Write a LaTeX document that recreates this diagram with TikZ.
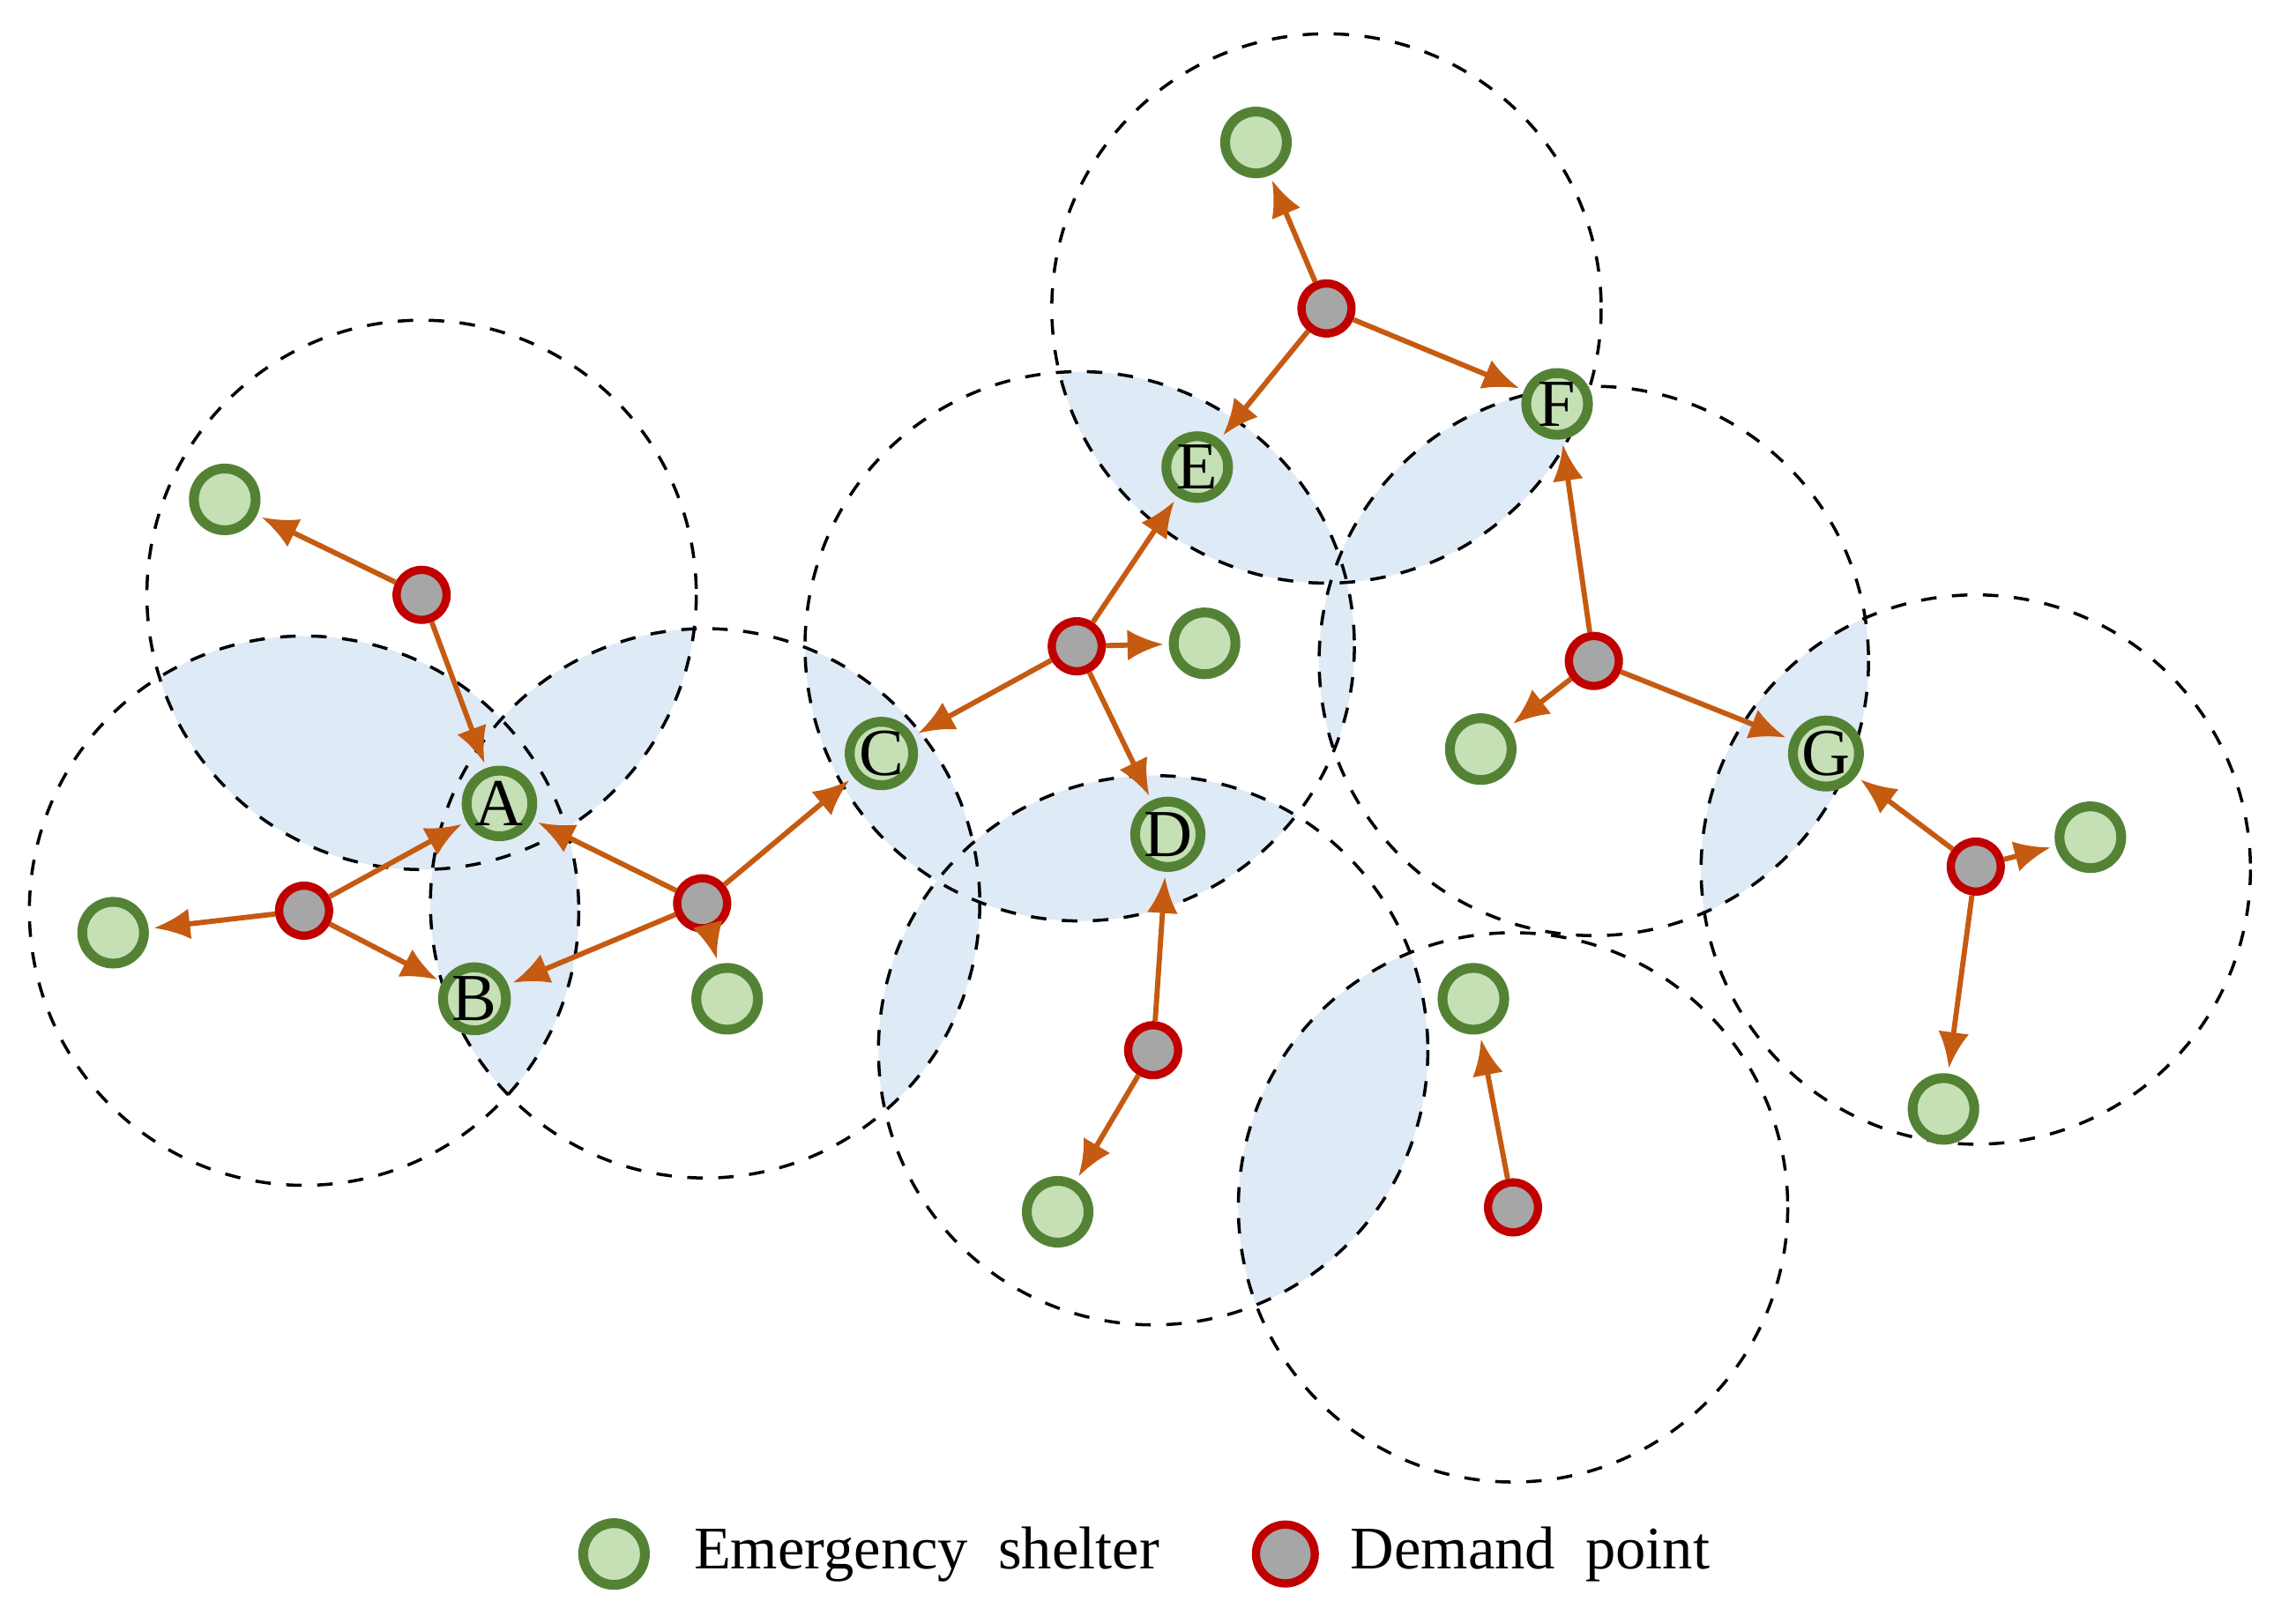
\documentclass[tikz,border=0pt]{standalone}
\usepackage{fontspec}
\setmainfont{Liberation Serif}
\usetikzlibrary{arrows.meta}
\definecolor{lens}{RGB}{222,234,246}
\definecolor{sg}{RGB}{84,130,53}
\definecolor{sf}{RGB}{197,224,180}
\definecolor{dr}{RGB}{192,0,0}
\definecolor{dg}{RGB}{166,166,166}
\definecolor{ar}{RGB}{197,90,17}
\tikzset{
 shelter/.style={circle,draw=sg,fill=sf,line width=1.9pt,minimum size=0.42cm,inner sep=0pt,font=\fontsize{13}{15}\selectfont},
 demand/.style={circle,draw=dr,fill=dg,line width=1.6pt,minimum size=0.34cm,inner sep=0pt},
 zone/.style={dashed,line width=0.6pt},
 link/.style={draw=ar,line width=1pt,-{Latex[length=7pt,width=6pt]},shorten >=1pt}
}
\begin{document}
\begin{tikzpicture}[x=0.01cm,y=-0.01cm]
\useasboundingbox (0,0) rectangle (1563,1100);
\def\R{187}
\foreach \a/\b/\c/\d in {287/405/207/620, 287/405/480/615, 207/620/480/615, 480/615/735/440, 735/440/903/210, 735/440/1085/450, 903/210/1085/450, 735/440/785/715, 480/615/785/715, 785/715/1030/822, 1085/450/1345/592}{
  \begin{scope}
    \clip (\a,\b) circle (\R);
    \fill[lens] (\c,\d) circle (\R);
  \end{scope}}
\foreach \x/\y in {287/405,207/620,480/615,735/440,903/210,1085/450,785/715,1030/822,1345/592}
  \draw[zone] (\x,\y) circle (\R);
\node[shelter] (s1) at (153,340) {};
\node[shelter] (s2) at (77,635) {};
\node[shelter] (A) at (340,547) {A};
\node[shelter] (B) at (323,680) {B};
\node[shelter] (s3) at (495,680) {};
\node[shelter] (C) at (600,513) {C};
\node[shelter] (s4) at (820,438) {};
\node[shelter] (E) at (815,318) {E};
\node[shelter] (s5) at (855,97) {};
\node[shelter] (F) at (1060,275) {F};
\node[shelter] (s6) at (1008,510) {};
\node[shelter] (G) at (1243,513) {G};
\node[shelter] (s7) at (1423,570) {};
\node[shelter] (s8) at (1323,755) {};
\node[shelter] (D) at (795,568) {D};
\node[shelter] (s9) at (720,825) {};
\node[shelter] (s10) at (1003,680) {};
\node[demand] (d1) at (287,405) {};
\node[demand] (d2) at (207,620) {};
\node[demand] (d3) at (478,615) {};
\node[demand] (d4) at (733,440) {};
\node[demand] (d5) at (903,210) {};
\node[demand] (d6) at (1085,450) {};
\node[demand] (d7) at (1345,590) {};
\node[demand] (d8) at (785,715) {};
\node[demand] (d9) at (1030,822) {};
\foreach \d/\s in {d1/s1,d1/A,d2/s2,d2/A,d2/B,d3/A,d3/B,d3/s3,d3/C,d4/C,d4/E,d4/s4,d4/D,d5/s5,d5/E,d5/F,d6/F,d6/s6,d6/G,d7/G,d7/s7,d7/s8,d8/D,d8/s9,d9/s10}
  \draw[link] (\d) -- (\s);
\node[shelter] (ls) at (418,1058) {};
\node[anchor=west,font=\fontsize{11.7}{14}\selectfont] (lst) at (460,1058) {Emergency\ \ shelter};
\node[demand,minimum size=0.4cm] (ld) at (875,1058) {};
\node[anchor=west,font=\fontsize{11.7}{14}\selectfont] (ldt) at (907,1058) {Demand\ \ point};
\end{tikzpicture}
\end{document}
